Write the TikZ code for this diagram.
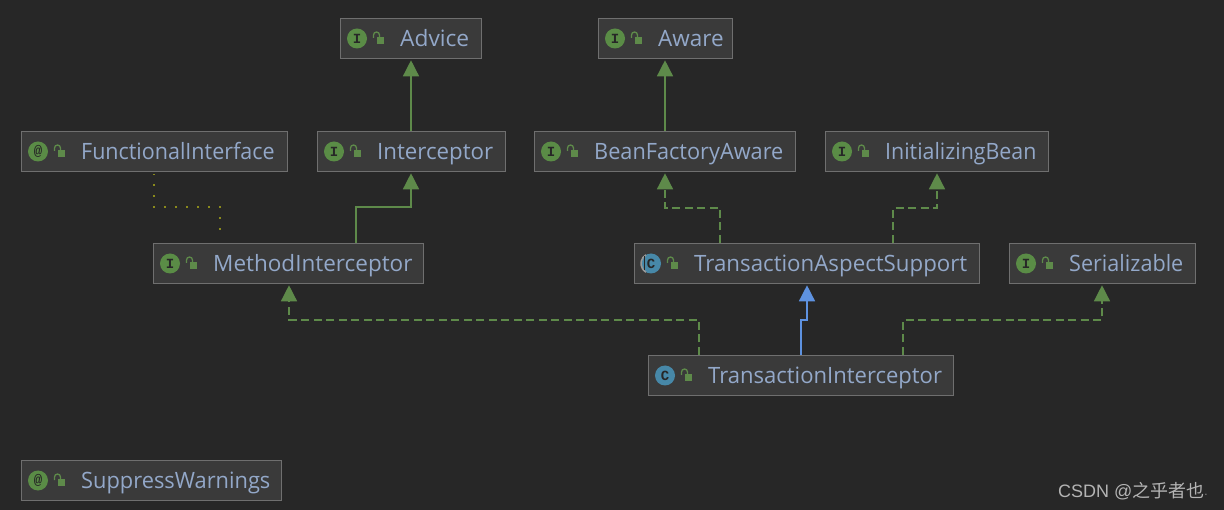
\documentclass[tikz,border=0pt]{standalone}
\usepackage{fontspec}
\usepackage{graphicx}
\setmainfont{Open Sans}
\newfontfamily\cjkfont{Noto Sans CJK SC}
\newfontfamily\wmfont{Liberation Sans}
\newfontfamily\iconfont{Liberation Mono}
\usetikzlibrary{arrows.meta,calc}
\definecolor{bgc}{HTML}{272727}
\definecolor{boxfill}{HTML}{3A3A3A}
\definecolor{boxline}{HTML}{6F6F6F}
\definecolor{txt}{HTML}{93A8C9}
\definecolor{grn}{HTML}{5E8A4A}
\definecolor{icongreen}{HTML}{5A8C46}
\definecolor{iconblue}{HTML}{4788A8}
\definecolor{bluearrow}{HTML}{5E92E0}
\definecolor{olive}{HTML}{8A8A1C}
\definecolor{wmc}{HTML}{B4B4B4}
\tikzset{
  umlbox/.style={draw=boxline,fill=boxfill,line width=1.3pt,anchor=north west,inner sep=0pt,minimum height=40pt},
  label/.style={text=txt,font=\fontsize{22.5}{26}\selectfont,anchor=base west,inner sep=0pt},
  iconbadge/.style={circle,minimum size=20pt,inner sep=0pt,text=bgc,font=\fontsize{14}{14}\selectfont\iconfont\bfseries},
  edge/.style={draw=grn,line width=1.4pt,-{Triangle[length=16pt,width=16pt,fill=grn]}},
  dashededge/.style={edge,dash pattern=on 8pt off 4.5pt},
  inherit/.style={draw=bluearrow,line width=1.4pt,-{Triangle[length=16pt,width=16pt,fill=bluearrow]}},
  dottededge/.style={draw=olive,line width=2.4pt,dash pattern=on 2.4pt off 8.6pt},
  wmark/.style={text=wmc,font=\fontsize{18}{20}\selectfont\wmfont,anchor=base east,inner sep=0pt}
}
% name, left, right, top, icon colour, icon letter, text scale, text
\newcommand{\umlnode}[8]{%
  \node[umlbox,minimum width={(#3-#2)*1pt}] (#1) at (#2,#4) {};
  \node[iconbadge,fill=#5] (#1icon) at (#2+17,#4+20.5) {#6};
  \fill[grn] (#2+37,#4+19) rectangle (#2+44,#4+26);
  \draw[grn,line width=1.3pt] (#2+33.5,#4+20) -- (#2+33.5,#4+17) arc[start angle=180,end angle=360,radius=3] -- (#2+39.5,#4+19);
  \node[label] (#1text) at (#2+60,#4+29) {\scalebox{#7}[1]{#8}};
}
\begin{document}
\begin{tikzpicture}[x=1pt,y=-1pt]
\useasboundingbox[fill=bgc] (0,0) rectangle (1224,510);
\umlnode{advice}{340}{481}{18}{icongreen}{I}{1.01}{Advice}
\umlnode{aware}{598}{732}{18}{icongreen}{I}{1}{Aware}
\umlnode{fi}{21}{287}{131}{icongreen}{@}{.955}{FunctionalInterface}
\umlnode{interceptor}{317}{505}{131}{icongreen}{I}{.99}{Interceptor}
\umlnode{bfa}{534}{795}{131}{icongreen}{I}{.965}{BeanFactoryAware}
\umlnode{ib}{825}{1048}{131}{icongreen}{I}{.95}{InitializingBean}
\umlnode{mi}{153}{423}{243}{icongreen}{I}{1}{MethodInterceptor}
\umlnode{tas}{634}{979}{243}{iconblue}{C}{.99}{TransactionAspectSupport}
\draw[black!40!white,line width=1.6pt] (tasicon.center) ++(-5,-8.66) arc[start angle=-120,end angle=-240,radius=10];
\draw[bgc,line width=1.2pt] (tasicon.center) ++(-6.5,-7) -- ++(0,14);
\umlnode{ser}{1009}{1195}{243}{icongreen}{I}{.96}{Serializable}
\umlnode{ti}{648}{953}{355}{iconblue}{C}{.98}{TransactionInterceptor}
\umlnode{sw}{21}{281}{460}{icongreen}{@}{.97}{SuppressWarnings}
% connectors
\draw[edge] ([xshift=94pt]interceptor.north west) -- ([yshift=-1pt,xshift=71pt]advice.south west);
\draw[edge] ([xshift=131pt]bfa.north west) -- ([yshift=-1pt,xshift=67pt]aware.south west);
\draw[edge] ([xshift=203pt]mi.north west) -- ++(0,-36) -| ([yshift=-1pt,xshift=94pt]interceptor.south west);
\draw[dottededge] ([xshift=67pt,yshift=13pt]mi.north west) -- ++(0,-23) -| ([xshift=133pt,yshift=-1.5pt]fi.south west);
\draw[dashededge] ([xshift=86pt]tas.north west) -- ++(0,-35) -| ([yshift=-1pt,xshift=131pt]bfa.south west);
\draw[dashededge] ([xshift=259pt]tas.north west) -- ++(0,-35) -| ([yshift=-1pt,xshift=112pt]ib.south west);
\draw[dashededge] ([xshift=51pt]ti.north west) -- ++(0,-35) -| ([yshift=-1pt,xshift=136pt]mi.south west);
\draw[dashededge] ([xshift=255pt]ti.north west) -- ++(0,-35) -| ([yshift=-1pt,xshift=93pt]ser.south west);
\draw[inherit] ([xshift=153pt]ti.north west) -- ++(0,-35) -| ([yshift=-1pt,xshift=173pt]tas.south west);
\node[wmark] (watermark) at (1208,497) {CSDN @{\cjkfont 之乎者也}{\fontsize{10}{10}\selectfont ·}};
\end{tikzpicture}
\end{document}
